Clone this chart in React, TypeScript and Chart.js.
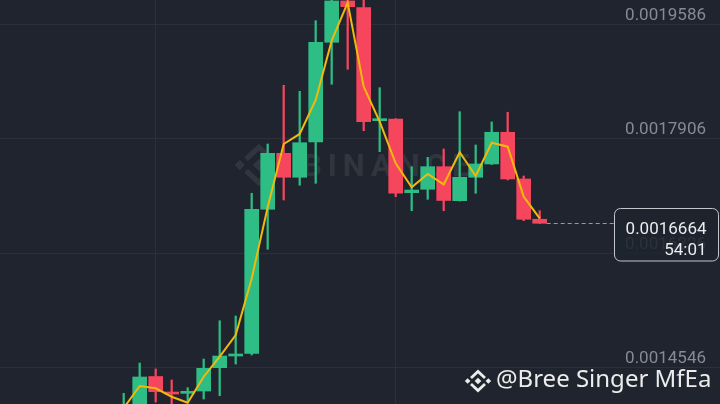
import React, { useEffect, useRef } from 'react';
import { Chart, registerables } from 'chart.js';

Chart.register(...registerables);

// ---- data ----
const opens = [0.0013618, 0.0013839, 0.0014406, 0.0014170, 0.0014158, 0.0014192, 0.0014536, 0.0014708, 0.0014748, 0.0016870, 0.0017695, 0.0017342, 0.0017862, 0.0019331, 0.0019940, 0.0019841, 0.0018176, 0.0018201, 0.0017115, 0.0017165, 0.0017498, 0.0016997, 0.0017342, 0.0017538, 0.0018005, 0.0017317, 0.0016723];
const closes = [0.0013971, 0.0014399, 0.0014182, 0.0014148, 0.0014182, 0.0014527, 0.0014708, 0.0014738, 0.0016870, 0.0017695, 0.0017342, 0.0017851, 0.0019331, 0.0019940, 0.0019856, 0.0018161, 0.0018201, 0.0017106, 0.0017154, 0.0017498, 0.0017000, 0.0017342, 0.0017538, 0.0018005, 0.0017317, 0.0016723, 0.0016664];
const highs = [0.0014158, 0.0014605, 0.0014517, 0.0014354, 0.0014241, 0.0014664, 0.0015228, 0.0015298, 0.0017106, 0.0017832, 0.0018697, 0.0018609, 0.0019649, 0.0020028, 0.0020028, 0.0019999, 0.0018662, 0.0018205, 0.0017498, 0.0017636, 0.0017759, 0.0018308, 0.0017818, 0.0018157, 0.0018300, 0.0017361, 0.0016849];
const lows = [0.0013470, 0.0013765, 0.0014030, 0.0013971, 0.0014035, 0.0014074, 0.0014123, 0.0014590, 0.0014723, 0.0016281, 0.0017007, 0.0017224, 0.0017253, 0.0018712, 0.0018933, 0.0018028, 0.0017719, 0.0017056, 0.0016849, 0.0017017, 0.0016849, 0.0016992, 0.0017106, 0.0017530, 0.0017302, 0.0016702, 0.0016660];
const maValues = [0.0013942, 0.0014266, 0.0014232, 0.0014108, 0.0014020, 0.0014403, 0.0014698, 0.0015018, 0.0015850, 0.0016904, 0.0017832, 0.0017980, 0.0018481, 0.0019355, 0.0019915, 0.0018677, 0.0018161, 0.0017548, 0.0017194, 0.0017390, 0.0017236, 0.0017710, 0.0017361, 0.0017851, 0.0017793, 0.0017056, 0.0016737];

const yTickValues = [0.0019586, 0.0017906, 0.0016226, 0.0014546];
const yTickLabels = ['0.0019586', '0.0017906', '0.0016226', '0.0014546'];
const xGridTicks = [2, 17];
const lastPriceLabel = '0.0016664';
const countdownLabel = '54:01';
const watermarkText = 'BINANCE';
const userTag = '@Bree Singer MfEa';

const Y_MIN = 0.0014001;
const Y_MAX = 0.0019954;
const X_MIN = -7.731;
const X_MAX = 37.269;

const BG = '#1f242e';
const GRID = '#2b303a';
const UP = '#2ebd85';
const DOWN = '#f6465d';
const MA = '#f0b90b';

function drawLogo(ctx: CanvasRenderingContext2D, cx: number, cy: number, s: number, color: string) {
  ctx.save();
  ctx.fillStyle = color;
  ctx.strokeStyle = color;
  const dia = (x: number, y: number, r: number) => {
    ctx.beginPath();
    ctx.moveTo(x, y - r);
    ctx.lineTo(x + r, y);
    ctx.lineTo(x, y + r);
    ctx.lineTo(x - r, y);
    ctx.closePath();
    ctx.fill();
  };
  dia(cx, cy, s * 0.24);
  dia(cx - s * 0.74, cy, s * 0.2);
  dia(cx + s * 0.74, cy, s * 0.2);
  ctx.lineWidth = s * 0.2;
  ctx.lineJoin = 'miter';
  ctx.beginPath();
  ctx.moveTo(cx - s * 0.5, cy - s * 0.22);
  ctx.lineTo(cx, cy - s * 0.68);
  ctx.lineTo(cx + s * 0.5, cy - s * 0.22);
  ctx.stroke();
  ctx.beginPath();
  ctx.moveTo(cx - s * 0.5, cy + s * 0.22);
  ctx.lineTo(cx, cy + s * 0.68);
  ctx.lineTo(cx + s * 0.5, cy + s * 0.22);
  ctx.stroke();
  ctx.restore();
}

const overlayPlugin = {
  id: 'overlay',
  beforeDatasetsDraw(chart: any) {
    const ctx: CanvasRenderingContext2D = chart.ctx;
    ctx.save();
    drawLogo(ctx, 259, 165, 26, 'rgba(255,255,255,0.08)');
    ctx.fillStyle = 'rgba(255,255,255,0.08)';
    ctx.font = 'bold 31px Roboto';
    (ctx as any).letterSpacing = '6px';
    ctx.textAlign = 'left';
    ctx.textBaseline = 'alphabetic';
    ctx.fillText(watermarkText, 302, 176);
    ctx.restore();
  },
  afterDraw(chart: any) {
    const ctx: CanvasRenderingContext2D = chart.ctx;
    const ys = chart.scales.y;
    const xs = chart.scales.x;
    ctx.save();
    // y tick labels
    ctx.font = '17px Roboto';
    ctx.fillStyle = '#858b95';
    ctx.textAlign = 'right';
    ctx.textBaseline = 'alphabetic';
    yTickValues.forEach((v, i) => {
      ctx.fillText(yTickLabels[i], 706, ys.getPixelForValue(v) - 4.5);
    });
    // last price dashed line
    const lastIdx = closes.length - 1;
    const py = Math.round(ys.getPixelForValue(closes[lastIdx])) + 0.5;
    const px = xs.getPixelForValue(lastIdx) + 7;
    ctx.strokeStyle = '#959ba4';
    ctx.lineWidth = 1;
    ctx.setLineDash([4, 3]);
    ctx.beginPath();
    ctx.moveTo(px, py);
    ctx.lineTo(614, py);
    ctx.stroke();
    ctx.setLineDash([]);
    // price box
    const bx = 614.5, by = 208.5, bw = 104, bh = 52.5, r = 6;
    ctx.beginPath();
    ctx.moveTo(bx + r, by);
    ctx.lineTo(bx + bw - r, by);
    ctx.arcTo(bx + bw, by, bx + bw, by + r, r);
    ctx.lineTo(bx + bw, by + bh - r);
    ctx.arcTo(bx + bw, by + bh, bx + bw - r, by + bh, r);
    ctx.lineTo(bx + r, by + bh);
    ctx.arcTo(bx, by + bh, bx, by + bh - r, r);
    ctx.lineTo(bx, by + r);
    ctx.arcTo(bx, by, bx + r, by, r);
    ctx.closePath();
    ctx.fillStyle = 'rgba(31,36,46,0.88)';
    ctx.fill();
    ctx.strokeStyle = '#c3c7cd';
    ctx.lineWidth = 1;
    ctx.stroke();
    ctx.fillStyle = '#eaecef';
    ctx.font = '17px Roboto';
    ctx.fillText(lastPriceLabel, 706.5, 233.5);
    ctx.fillText(countdownLabel, 706.5, 255);
    // bottom user tag
    drawLogo(ctx, 478, 381, 14, '#ececec');
    ctx.fillStyle = '#ececec';
    ctx.font = '24px "Noto Sans"';
    ctx.textAlign = 'left';
    ctx.fillText(userTag, 496, 387);
    ctx.restore();
  },
};

export default function App() {
  const ref = useRef<HTMLCanvasElement>(null);
  useEffect(() => {
    if (!ref.current) return;
    const colors = opens.map((o, i) => (closes[i] >= o ? UP : DOWN));
    const chart = new Chart(ref.current, {
      type: 'bar',
      data: {
        datasets: [
          {
            type: 'bar',
            label: 'wick',
            data: lows.map((l, i) => ({ x: i, y: [l, highs[i]] })) as any,
            backgroundColor: colors,
            borderWidth: 0,
            barThickness: 1.6,
            grouped: false,
            order: 3,
          } as any,
          {
            type: 'bar',
            label: 'body',
            data: opens.map((o, i) => ({ x: i, y: [o, closes[i]] })) as any,
            backgroundColor: colors,
            borderWidth: 0,
            barThickness: 14,
            minBarLength: 2,
            grouped: false,
            order: 2,
          } as any,
          {
            type: 'line',
            label: 'MA',
            data: maValues.map((v, i) => ({ x: i, y: v })) as any,
            borderColor: MA,
            borderWidth: 2,
            pointRadius: 0,
            tension: 0,
            order: 1,
          } as any,
        ],
      },
      options: {
        responsive: false,
        animation: false,
        devicePixelRatio: 1,
        layout: { padding: 0 },
        plugins: { legend: { display: false }, tooltip: { enabled: false } },
        scales: {
          x: {
            type: 'linear',
            min: X_MIN,
            max: X_MAX,
            offset: false,
            border: { display: false },
            ticks: { display: false },
            grid: { color: GRID, drawTicks: false, lineWidth: 1, offset: false },
            afterBuildTicks: (scale: any) => {
              scale.ticks = xGridTicks.map((v) => ({ value: v }));
            },
          },
          y: {
            type: 'linear',
            position: 'right',
            min: Y_MIN,
            max: Y_MAX,
            border: { display: false },
            ticks: { display: false },
            grid: { color: GRID, drawTicks: false, lineWidth: 1 },
            afterBuildTicks: (scale: any) => {
              scale.ticks = yTickValues.map((v) => ({ value: v }));
            },
          },
        },
      } as any,
      plugins: [overlayPlugin],
    });
    return () => chart.destroy();
  }, []);
  return (
    <div style={{ position: 'fixed', left: 0, top: 0, width: 720, height: 404, background: BG }}>
      <canvas ref={ref} width={720} height={404} style={{ display: 'block', width: 720, height: 404 }} />
    </div>
  );
}
